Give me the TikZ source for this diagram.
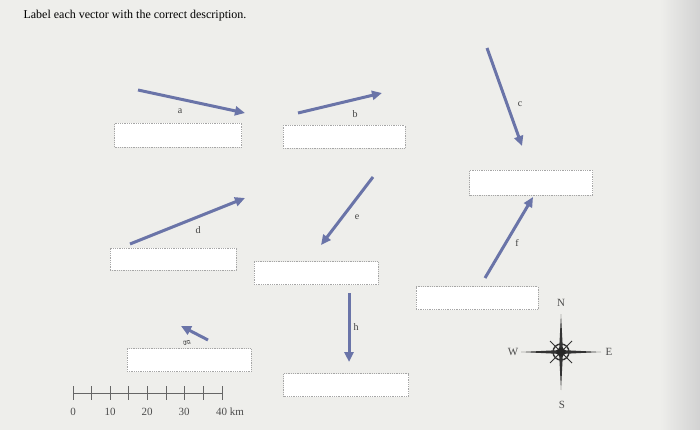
\documentclass[tikz,border=0pt]{standalone}
\usepackage{fontspec}
\setmainfont{Liberation Serif}
\usetikzlibrary{arrows.meta}
\definecolor{vec}{HTML}{6A74A8}
\definecolor{bg}{HTML}{EEEEEB}
\tikzset{
 vecline/.style={draw=vec,line width=3pt,-{Triangle[length=10pt,width=9pt]}},
 ansbox/.style={draw=gray!70,densely dotted,fill=white,line width=0.8pt},
 lbl/.style={font=\fontsize{10}{11}\selectfont,text=black!75},
 cmp/.style={font=\fontsize{11}{12}\selectfont,text=black!70}
}
\begin{document}
\begin{tikzpicture}[x=1pt,y=-1pt]
\useasboundingbox (0,0) rectangle (700,430);
\fill[bg] (0,0) rectangle (700,430);
\shade[left color=bg,right color=gray!35] (660,0) rectangle (700,430);
\node[anchor=west,font=\fontsize{12}{13}\selectfont] (title) at (20,16) {Label each vector with the correct description.};
% vectors
\coordinate (a1) at (138,90); \coordinate (a2) at (245,113);
\draw[vecline] (a1) -- (a2); \node[lbl] (la) at (180,111) {a};
\node[ansbox,minimum width=127pt,minimum height=24pt] (ba) at (178,135) {};
\coordinate (b1) at (298,113); \coordinate (b2) at (382,93);
\draw[vecline] (b1) -- (b2); \node[lbl] (lb) at (355,114) {b};
\node[ansbox,minimum width=122pt,minimum height=23pt] (bb) at (344,137) {};
\coordinate (c1) at (487,48); \coordinate (c2) at (522,146);
\draw[vecline] (c1) -- (c2); \node[lbl] (lc) at (520,104) {c};
\node[ansbox,minimum width=123pt,minimum height=25pt] (bc) at (531,183) {};
\coordinate (d1) at (130,244); \coordinate (d2) at (245,198);
\draw[vecline] (d1) -- (d2); \node[lbl] (ld) at (198,230) {d};
\node[ansbox,minimum width=126pt,minimum height=22pt] (bd) at (173,259) {};
\coordinate (e1) at (373,177); \coordinate (e2) at (321,245);
\draw[vecline] (e1) -- (e2); \node[lbl] (le) at (357,217) {e};
\node[ansbox,minimum width=124pt,minimum height=23pt] (be) at (316,273) {};
\coordinate (f1) at (485,278); \coordinate (f2) at (533,197);
\draw[vecline] (f1) -- (f2); \node[lbl] (lf) at (517,243) {f};
\node[ansbox,minimum width=122pt,minimum height=23pt] (bf) at (477,298) {};
\coordinate (g1) at (208,340); \coordinate (g2) at (181,326);
\draw[vecline] (g1) -- (g2); \node[lbl,rotate=-80] (lg) at (187,343) {g};
\node[ansbox,minimum width=124pt,minimum height=23pt] (bg) at (189,360) {};
\coordinate (h1) at (349,293); \coordinate (h2) at (349,362);
\draw[vecline] (h1) -- (h2); \node[lbl] (lh) at (356,327) {h};
\node[ansbox,minimum width=125pt,minimum height=23pt] (bh) at (346,385) {};
% scale
\draw[black!60,line width=1pt] (73,393) -- (222,393);
\foreach \i in {0,...,8} \draw[black!60,line width=1pt] (73+\i*18.625,386) -- (73+\i*18.625,400);
\node[cmp] (s0) at (73,412) {0};
\node[cmp] (s1) at (110,412) {10};
\node[cmp] (s2) at (147,412) {20};
\node[cmp] (s3) at (184,412) {30};
\node[cmp] (s4) at (230,412) {40 km};
% compass
\fill[black!80] (521,352) -- (561,350) -- (601,352) -- (561,354) -- cycle;
\fill[black!80] (561,314) -- (563,352) -- (561,390) -- (559,352) -- cycle;
\draw[black!80,line width=1.4pt] (561,352) circle (8);
\draw[black!80,line width=0.9pt] (550,341) -- (572,363) (550,363) -- (572,341);
\fill[black!85] (561,352) circle (4.5);
\node[cmp] (cN) at (561,303) {N};
\node[cmp] (cS) at (562,405) {S};
\node[cmp] (cW) at (513,352) {W};
\node[cmp] (cE) at (609,352) {E};
\end{tikzpicture}
\end{document}
